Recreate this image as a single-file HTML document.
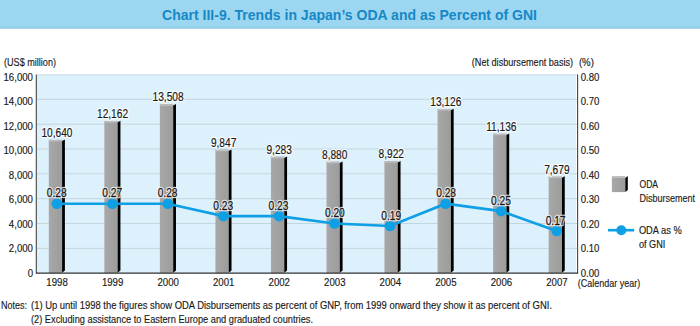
<!DOCTYPE html>
<html><head><meta charset="utf-8"><style>
html,body{margin:0;padding:0;background:#fff;}
body{width:700px;height:326px;overflow:hidden;}
svg{display:block;font-family:"Liberation Sans",sans-serif;}
</style></head><body>
<svg width="700" height="326" viewBox="0 0 700 326">
<rect x="0" y="0" width="700" height="28.6" fill="#9dd6f1"/>
<rect x="0" y="26.4" width="700" height="2.2" fill="#94cfe8"/>
<text x="162" y="19.8" font-weight="bold" font-size="15.5" fill="#1688c6" textLength="375" lengthAdjust="spacingAndGlyphs">Chart III-9. Trends in Japan’s ODA and as Percent of GNI</text>
<rect x="36.8" y="74.5" width="539.2" height="198.7" fill="#ddf1fc"/>
<line x1="37" y1="248.4" x2="577" y2="248.4" stroke="#c3d5df" stroke-width="1"/>
<line x1="37" y1="223.5" x2="577" y2="223.5" stroke="#c3d5df" stroke-width="1"/>
<line x1="37" y1="198.7" x2="577" y2="198.7" stroke="#c3d5df" stroke-width="1"/>
<line x1="37" y1="173.8" x2="577" y2="173.8" stroke="#c3d5df" stroke-width="1"/>
<line x1="37" y1="149.0" x2="577" y2="149.0" stroke="#c3d5df" stroke-width="1"/>
<line x1="37" y1="124.2" x2="577" y2="124.2" stroke="#c3d5df" stroke-width="1"/>
<line x1="37" y1="99.3" x2="577" y2="99.3" stroke="#c3d5df" stroke-width="1"/>
<line x1="37" y1="74.9" x2="577" y2="74.9" stroke="#cbdbe4" stroke-width="1"/>
<defs><linearGradient id="bg" x1="0" x2="1" y1="0" y2="0"><stop offset="0" stop-color="#a8a8a8"/><stop offset="1" stop-color="#9c9c9c"/></linearGradient></defs>
<rect x="48.80" y="139.86" width="13.3" height="133.34" fill="url(#bg)"/>
<rect x="48.80" y="139.86" width="13.3" height="1.6" fill="#bdbdbd"/>
<polygon points="62.10,141.06 64.90,139.56 64.90,270.40 62.10,272.80" fill="#000"/>
<rect x="104.34" y="120.96" width="13.3" height="152.24" fill="url(#bg)"/>
<rect x="104.34" y="120.96" width="13.3" height="1.6" fill="#bdbdbd"/>
<polygon points="117.64,122.16 120.44,120.66 120.44,270.40 117.64,272.80" fill="#000"/>
<rect x="159.88" y="104.25" width="13.3" height="168.95" fill="url(#bg)"/>
<rect x="159.88" y="104.25" width="13.3" height="1.6" fill="#bdbdbd"/>
<polygon points="173.18,105.45 175.98,103.95 175.98,270.40 173.18,272.80" fill="#000"/>
<rect x="215.42" y="149.71" width="13.3" height="123.49" fill="url(#bg)"/>
<rect x="215.42" y="149.71" width="13.3" height="1.6" fill="#bdbdbd"/>
<polygon points="228.72,150.91 231.52,149.41 231.52,270.40 228.72,272.80" fill="#000"/>
<rect x="270.96" y="156.72" width="13.3" height="116.48" fill="url(#bg)"/>
<rect x="270.96" y="156.72" width="13.3" height="1.6" fill="#bdbdbd"/>
<polygon points="284.26,157.92 287.06,156.42 287.06,270.40 284.26,272.80" fill="#000"/>
<rect x="326.50" y="161.72" width="13.3" height="111.48" fill="url(#bg)"/>
<rect x="326.50" y="161.72" width="13.3" height="1.6" fill="#bdbdbd"/>
<polygon points="339.80,162.92 342.60,161.42 342.60,270.40 339.80,272.80" fill="#000"/>
<rect x="384.44" y="161.20" width="13.3" height="112.00" fill="url(#bg)"/>
<rect x="384.44" y="161.20" width="13.3" height="1.6" fill="#bdbdbd"/>
<polygon points="397.74,162.40 400.54,160.90 400.54,270.40 397.74,272.80" fill="#000"/>
<rect x="437.58" y="108.99" width="13.3" height="164.21" fill="url(#bg)"/>
<rect x="437.58" y="108.99" width="13.3" height="1.6" fill="#bdbdbd"/>
<polygon points="450.88,110.19 453.68,108.69 453.68,270.40 450.88,272.80" fill="#000"/>
<rect x="493.12" y="133.70" width="13.3" height="139.50" fill="url(#bg)"/>
<rect x="493.12" y="133.70" width="13.3" height="1.6" fill="#bdbdbd"/>
<polygon points="506.42,134.90 509.22,133.40 509.22,270.40 506.42,272.80" fill="#000"/>
<rect x="548.66" y="176.64" width="13.3" height="96.56" fill="url(#bg)"/>
<rect x="548.66" y="176.64" width="13.3" height="1.6" fill="#bdbdbd"/>
<polygon points="561.96,177.84 564.76,176.34 564.76,270.40 561.96,272.80" fill="#000"/>
<text x="57.00" y="136.86" text-anchor="middle" font-size="12.5" fill="#fff" textLength="31.04" lengthAdjust="spacingAndGlyphs" stroke="#fff" stroke-width="2.4" stroke-opacity="0.9" stroke-linejoin="round">10,640</text>
<text x="57.00" y="136.86" text-anchor="middle" font-size="12.5" fill="#1a1a1a" stroke="#1a1a1a" stroke-width="0.2" textLength="31.04" lengthAdjust="spacingAndGlyphs">10,640</text>
<text x="112.54" y="117.96" text-anchor="middle" font-size="12.5" fill="#fff" textLength="31.04" lengthAdjust="spacingAndGlyphs" stroke="#fff" stroke-width="2.4" stroke-opacity="0.9" stroke-linejoin="round">12,162</text>
<text x="112.54" y="117.96" text-anchor="middle" font-size="12.5" fill="#1a1a1a" stroke="#1a1a1a" stroke-width="0.2" textLength="31.04" lengthAdjust="spacingAndGlyphs">12,162</text>
<text x="168.08" y="101.25" text-anchor="middle" font-size="12.5" fill="#fff" textLength="31.04" lengthAdjust="spacingAndGlyphs" stroke="#fff" stroke-width="2.4" stroke-opacity="0.9" stroke-linejoin="round">13,508</text>
<text x="168.08" y="101.25" text-anchor="middle" font-size="12.5" fill="#1a1a1a" stroke="#1a1a1a" stroke-width="0.2" textLength="31.04" lengthAdjust="spacingAndGlyphs">13,508</text>
<text x="223.62" y="146.71" text-anchor="middle" font-size="12.5" fill="#fff" textLength="25.40" lengthAdjust="spacingAndGlyphs" stroke="#fff" stroke-width="2.4" stroke-opacity="0.9" stroke-linejoin="round">9,847</text>
<text x="223.62" y="146.71" text-anchor="middle" font-size="12.5" fill="#1a1a1a" stroke="#1a1a1a" stroke-width="0.2" textLength="25.40" lengthAdjust="spacingAndGlyphs">9,847</text>
<text x="279.16" y="153.72" text-anchor="middle" font-size="12.5" fill="#fff" textLength="25.40" lengthAdjust="spacingAndGlyphs" stroke="#fff" stroke-width="2.4" stroke-opacity="0.9" stroke-linejoin="round">9,283</text>
<text x="279.16" y="153.72" text-anchor="middle" font-size="12.5" fill="#1a1a1a" stroke="#1a1a1a" stroke-width="0.2" textLength="25.40" lengthAdjust="spacingAndGlyphs">9,283</text>
<text x="334.70" y="158.72" text-anchor="middle" font-size="12.5" fill="#fff" textLength="25.40" lengthAdjust="spacingAndGlyphs" stroke="#fff" stroke-width="2.4" stroke-opacity="0.9" stroke-linejoin="round">8,880</text>
<text x="334.70" y="158.72" text-anchor="middle" font-size="12.5" fill="#1a1a1a" stroke="#1a1a1a" stroke-width="0.2" textLength="25.40" lengthAdjust="spacingAndGlyphs">8,880</text>
<text x="391.24" y="158.20" text-anchor="middle" font-size="12.5" fill="#fff" textLength="25.40" lengthAdjust="spacingAndGlyphs" stroke="#fff" stroke-width="2.4" stroke-opacity="0.9" stroke-linejoin="round">8,922</text>
<text x="391.24" y="158.20" text-anchor="middle" font-size="12.5" fill="#1a1a1a" stroke="#1a1a1a" stroke-width="0.2" textLength="25.40" lengthAdjust="spacingAndGlyphs">8,922</text>
<text x="445.78" y="105.99" text-anchor="middle" font-size="12.5" fill="#fff" textLength="31.04" lengthAdjust="spacingAndGlyphs" stroke="#fff" stroke-width="2.4" stroke-opacity="0.9" stroke-linejoin="round">13,126</text>
<text x="445.78" y="105.99" text-anchor="middle" font-size="12.5" fill="#1a1a1a" stroke="#1a1a1a" stroke-width="0.2" textLength="31.04" lengthAdjust="spacingAndGlyphs">13,126</text>
<text x="501.32" y="130.70" text-anchor="middle" font-size="12.5" fill="#fff" textLength="30.29" lengthAdjust="spacingAndGlyphs" stroke="#fff" stroke-width="2.4" stroke-opacity="0.9" stroke-linejoin="round">11,136</text>
<text x="501.32" y="130.70" text-anchor="middle" font-size="12.5" fill="#1a1a1a" stroke="#1a1a1a" stroke-width="0.2" textLength="30.29" lengthAdjust="spacingAndGlyphs">11,136</text>
<text x="556.86" y="173.64" text-anchor="middle" font-size="12.5" fill="#fff" textLength="25.40" lengthAdjust="spacingAndGlyphs" stroke="#fff" stroke-width="2.4" stroke-opacity="0.9" stroke-linejoin="round">7,679</text>
<text x="556.86" y="173.64" text-anchor="middle" font-size="12.5" fill="#1a1a1a" stroke="#1a1a1a" stroke-width="0.2" textLength="25.40" lengthAdjust="spacingAndGlyphs">7,679</text>
<line x1="36.3" y1="74.5" x2="36.3" y2="273.7" stroke="#444" stroke-width="1.1"/>
<line x1="577.6" y1="74.5" x2="577.6" y2="273.7" stroke="#444" stroke-width="1.1"/>
<line x1="36" y1="273.2" x2="578" y2="273.2" stroke="#333" stroke-width="1.2"/>
<text x="33.00" y="276.60" text-anchor="end" font-size="10.5" fill="#1a1a1a" stroke="#1a1a1a" stroke-width="0.15" textLength="5.37" lengthAdjust="spacingAndGlyphs">0</text>
<text x="580.70" y="276.60" text-anchor="start" font-size="10.5" fill="#1a1a1a" stroke="#1a1a1a" stroke-width="0.15" textLength="18.68" lengthAdjust="spacingAndGlyphs">0.00</text>
<text x="33.00" y="252.10" text-anchor="end" font-size="10.5" fill="#1a1a1a" stroke="#1a1a1a" stroke-width="0.15" textLength="24.15" lengthAdjust="spacingAndGlyphs">2,000</text>
<text x="580.70" y="252.10" text-anchor="start" font-size="10.5" fill="#1a1a1a" stroke="#1a1a1a" stroke-width="0.15" textLength="18.68" lengthAdjust="spacingAndGlyphs">0.10</text>
<text x="33.00" y="227.60" text-anchor="end" font-size="10.5" fill="#1a1a1a" stroke="#1a1a1a" stroke-width="0.15" textLength="24.15" lengthAdjust="spacingAndGlyphs">4,000</text>
<text x="580.70" y="227.60" text-anchor="start" font-size="10.5" fill="#1a1a1a" stroke="#1a1a1a" stroke-width="0.15" textLength="18.68" lengthAdjust="spacingAndGlyphs">0.20</text>
<text x="33.00" y="203.10" text-anchor="end" font-size="10.5" fill="#1a1a1a" stroke="#1a1a1a" stroke-width="0.15" textLength="24.15" lengthAdjust="spacingAndGlyphs">6,000</text>
<text x="580.70" y="203.10" text-anchor="start" font-size="10.5" fill="#1a1a1a" stroke="#1a1a1a" stroke-width="0.15" textLength="18.68" lengthAdjust="spacingAndGlyphs">0.30</text>
<text x="33.00" y="178.60" text-anchor="end" font-size="10.5" fill="#1a1a1a" stroke="#1a1a1a" stroke-width="0.15" textLength="24.15" lengthAdjust="spacingAndGlyphs">8,000</text>
<text x="580.70" y="178.60" text-anchor="start" font-size="10.5" fill="#1a1a1a" stroke="#1a1a1a" stroke-width="0.15" textLength="18.68" lengthAdjust="spacingAndGlyphs">0.40</text>
<text x="33.00" y="154.10" text-anchor="end" font-size="10.5" fill="#1a1a1a" stroke="#1a1a1a" stroke-width="0.15" textLength="29.51" lengthAdjust="spacingAndGlyphs">10,000</text>
<text x="580.70" y="154.10" text-anchor="start" font-size="10.5" fill="#1a1a1a" stroke="#1a1a1a" stroke-width="0.15" textLength="18.68" lengthAdjust="spacingAndGlyphs">0.50</text>
<text x="33.00" y="129.60" text-anchor="end" font-size="10.5" fill="#1a1a1a" stroke="#1a1a1a" stroke-width="0.15" textLength="29.51" lengthAdjust="spacingAndGlyphs">12,000</text>
<text x="580.70" y="129.60" text-anchor="start" font-size="10.5" fill="#1a1a1a" stroke="#1a1a1a" stroke-width="0.15" textLength="18.68" lengthAdjust="spacingAndGlyphs">0.60</text>
<text x="33.00" y="105.10" text-anchor="end" font-size="10.5" fill="#1a1a1a" stroke="#1a1a1a" stroke-width="0.15" textLength="29.51" lengthAdjust="spacingAndGlyphs">14,000</text>
<text x="580.70" y="105.10" text-anchor="start" font-size="10.5" fill="#1a1a1a" stroke="#1a1a1a" stroke-width="0.15" textLength="18.68" lengthAdjust="spacingAndGlyphs">0.70</text>
<text x="33.00" y="80.60" text-anchor="end" font-size="10.5" fill="#1a1a1a" stroke="#1a1a1a" stroke-width="0.15" textLength="29.51" lengthAdjust="spacingAndGlyphs">16,000</text>
<text x="580.70" y="80.60" text-anchor="start" font-size="10.5" fill="#1a1a1a" stroke="#1a1a1a" stroke-width="0.15" textLength="18.68" lengthAdjust="spacingAndGlyphs">0.80</text>
<text x="57.10" y="286.00" text-anchor="middle" font-size="11" fill="#1a1a1a" stroke="#1a1a1a" stroke-width="0.15" textLength="21.47" lengthAdjust="spacingAndGlyphs">1998</text>
<text x="112.64" y="286.00" text-anchor="middle" font-size="11" fill="#1a1a1a" stroke="#1a1a1a" stroke-width="0.15" textLength="21.47" lengthAdjust="spacingAndGlyphs">1999</text>
<text x="168.18" y="286.00" text-anchor="middle" font-size="11" fill="#1a1a1a" stroke="#1a1a1a" stroke-width="0.15" textLength="21.47" lengthAdjust="spacingAndGlyphs">2000</text>
<text x="223.72" y="286.00" text-anchor="middle" font-size="11" fill="#1a1a1a" stroke="#1a1a1a" stroke-width="0.15" textLength="21.47" lengthAdjust="spacingAndGlyphs">2001</text>
<text x="279.26" y="286.00" text-anchor="middle" font-size="11" fill="#1a1a1a" stroke="#1a1a1a" stroke-width="0.15" textLength="21.47" lengthAdjust="spacingAndGlyphs">2002</text>
<text x="334.80" y="286.00" text-anchor="middle" font-size="11" fill="#1a1a1a" stroke="#1a1a1a" stroke-width="0.15" textLength="21.47" lengthAdjust="spacingAndGlyphs">2003</text>
<text x="390.34" y="286.00" text-anchor="middle" font-size="11" fill="#1a1a1a" stroke="#1a1a1a" stroke-width="0.15" textLength="21.47" lengthAdjust="spacingAndGlyphs">2004</text>
<text x="445.88" y="286.00" text-anchor="middle" font-size="11" fill="#1a1a1a" stroke="#1a1a1a" stroke-width="0.15" textLength="21.47" lengthAdjust="spacingAndGlyphs">2005</text>
<text x="501.42" y="286.00" text-anchor="middle" font-size="11" fill="#1a1a1a" stroke="#1a1a1a" stroke-width="0.15" textLength="21.47" lengthAdjust="spacingAndGlyphs">2006</text>
<text x="556.96" y="286.00" text-anchor="middle" font-size="11" fill="#1a1a1a" stroke="#1a1a1a" stroke-width="0.15" textLength="21.47" lengthAdjust="spacingAndGlyphs">2007</text>
<polyline points="56.8,203.7 112.3,203.7 167.9,203.7 223.4,216.1 279.0,216.1 334.5,223.5 390.0,226.0 445.6,203.7 501.1,211.1 556.7,231.0" fill="none" stroke="#0e9fe5" stroke-width="2.6"/>
<circle cx="56.8" cy="203.7" r="5.3" fill="#0e9fe5"/>
<circle cx="112.3" cy="203.7" r="5.3" fill="#0e9fe5"/>
<circle cx="167.9" cy="203.7" r="5.3" fill="#0e9fe5"/>
<circle cx="223.4" cy="216.1" r="5.3" fill="#0e9fe5"/>
<circle cx="279.0" cy="216.1" r="5.3" fill="#0e9fe5"/>
<circle cx="334.5" cy="223.5" r="5.3" fill="#0e9fe5"/>
<circle cx="390.0" cy="226.0" r="5.3" fill="#0e9fe5"/>
<circle cx="445.6" cy="203.7" r="5.3" fill="#0e9fe5"/>
<circle cx="501.1" cy="211.1" r="5.3" fill="#0e9fe5"/>
<circle cx="556.7" cy="231.0" r="5.3" fill="#0e9fe5"/>
<text x="56.65" y="197.25" text-anchor="middle" font-size="12.2" fill="#fff" textLength="19.85" lengthAdjust="spacingAndGlyphs" stroke="#fff" stroke-width="2.4" stroke-opacity="0.9" stroke-linejoin="round">0.28</text>
<text x="56.65" y="197.25" text-anchor="middle" font-size="12.2" fill="#1a1a1a" stroke="#1a1a1a" stroke-width="0.35" textLength="19.85" lengthAdjust="spacingAndGlyphs">0.28</text>
<text x="112.19" y="197.25" text-anchor="middle" font-size="12.2" fill="#fff" textLength="19.85" lengthAdjust="spacingAndGlyphs" stroke="#fff" stroke-width="2.4" stroke-opacity="0.9" stroke-linejoin="round">0.27</text>
<text x="112.19" y="197.25" text-anchor="middle" font-size="12.2" fill="#1a1a1a" stroke="#1a1a1a" stroke-width="0.35" textLength="19.85" lengthAdjust="spacingAndGlyphs">0.27</text>
<text x="167.63" y="197.25" text-anchor="middle" font-size="12.2" fill="#fff" textLength="19.85" lengthAdjust="spacingAndGlyphs" stroke="#fff" stroke-width="2.4" stroke-opacity="0.9" stroke-linejoin="round">0.28</text>
<text x="167.63" y="197.25" text-anchor="middle" font-size="12.2" fill="#1a1a1a" stroke="#1a1a1a" stroke-width="0.35" textLength="19.85" lengthAdjust="spacingAndGlyphs">0.28</text>
<text x="223.17" y="209.67" text-anchor="middle" font-size="12.2" fill="#fff" textLength="19.85" lengthAdjust="spacingAndGlyphs" stroke="#fff" stroke-width="2.4" stroke-opacity="0.9" stroke-linejoin="round">0.23</text>
<text x="223.17" y="209.67" text-anchor="middle" font-size="12.2" fill="#1a1a1a" stroke="#1a1a1a" stroke-width="0.35" textLength="19.85" lengthAdjust="spacingAndGlyphs">0.23</text>
<text x="278.41" y="209.67" text-anchor="middle" font-size="12.2" fill="#fff" textLength="19.85" lengthAdjust="spacingAndGlyphs" stroke="#fff" stroke-width="2.4" stroke-opacity="0.9" stroke-linejoin="round">0.23</text>
<text x="278.41" y="209.67" text-anchor="middle" font-size="12.2" fill="#1a1a1a" stroke="#1a1a1a" stroke-width="0.35" textLength="19.85" lengthAdjust="spacingAndGlyphs">0.23</text>
<text x="334.85" y="217.12" text-anchor="middle" font-size="12.2" fill="#fff" textLength="19.85" lengthAdjust="spacingAndGlyphs" stroke="#fff" stroke-width="2.4" stroke-opacity="0.9" stroke-linejoin="round">0.20</text>
<text x="334.85" y="217.12" text-anchor="middle" font-size="12.2" fill="#1a1a1a" stroke="#1a1a1a" stroke-width="0.35" textLength="19.85" lengthAdjust="spacingAndGlyphs">0.20</text>
<text x="391.29" y="219.61" text-anchor="middle" font-size="12.2" fill="#fff" textLength="19.85" lengthAdjust="spacingAndGlyphs" stroke="#fff" stroke-width="2.4" stroke-opacity="0.9" stroke-linejoin="round">0.19</text>
<text x="391.29" y="219.61" text-anchor="middle" font-size="12.2" fill="#1a1a1a" stroke="#1a1a1a" stroke-width="0.35" textLength="19.85" lengthAdjust="spacingAndGlyphs">0.19</text>
<text x="446.13" y="197.25" text-anchor="middle" font-size="12.2" fill="#fff" textLength="19.85" lengthAdjust="spacingAndGlyphs" stroke="#fff" stroke-width="2.4" stroke-opacity="0.9" stroke-linejoin="round">0.28</text>
<text x="446.13" y="197.25" text-anchor="middle" font-size="12.2" fill="#1a1a1a" stroke="#1a1a1a" stroke-width="0.35" textLength="19.85" lengthAdjust="spacingAndGlyphs">0.28</text>
<text x="500.92" y="204.71" text-anchor="middle" font-size="12.2" fill="#fff" textLength="19.85" lengthAdjust="spacingAndGlyphs" stroke="#fff" stroke-width="2.4" stroke-opacity="0.9" stroke-linejoin="round">0.25</text>
<text x="500.92" y="204.71" text-anchor="middle" font-size="12.2" fill="#1a1a1a" stroke="#1a1a1a" stroke-width="0.35" textLength="19.85" lengthAdjust="spacingAndGlyphs">0.25</text>
<text x="555.61" y="224.58" text-anchor="middle" font-size="12.2" fill="#fff" textLength="19.85" lengthAdjust="spacingAndGlyphs" stroke="#fff" stroke-width="2.4" stroke-opacity="0.9" stroke-linejoin="round">0.17</text>
<text x="555.61" y="224.58" text-anchor="middle" font-size="12.2" fill="#1a1a1a" stroke="#1a1a1a" stroke-width="0.35" textLength="19.85" lengthAdjust="spacingAndGlyphs">0.17</text>
<text x="4.00" y="65.80" text-anchor="start" font-size="10.5" fill="#1a1a1a" stroke="#1a1a1a" stroke-width="0.15" textLength="52.00" lengthAdjust="spacingAndGlyphs">(US$ million)</text>
<text x="471.80" y="65.80" text-anchor="start" font-size="10.5" fill="#1a1a1a" stroke="#1a1a1a" stroke-width="0.15" textLength="101.30" lengthAdjust="spacingAndGlyphs">(Net disbursement basis)</text>
<text x="578.90" y="65.80" text-anchor="start" font-size="10.5" fill="#1a1a1a" stroke="#1a1a1a" stroke-width="0.15" textLength="15.00" lengthAdjust="spacingAndGlyphs">(%)</text>
<text x="577.80" y="287.20" text-anchor="start" font-size="10.5" fill="#1a1a1a" stroke="#1a1a1a" stroke-width="0.15" textLength="62.40" lengthAdjust="spacingAndGlyphs">(Calendar year)</text>
<rect x="611.9" y="176.4" width="13.4" height="15.7" fill="url(#bg)"/>
<rect x="611.9" y="176.4" width="13.4" height="1.6" fill="#bdbdbd"/>
<polygon points="625.3,178 627.8,176 627.8,190 625.3,192.1" fill="#000"/>
<text x="639.50" y="188.40" text-anchor="start" font-size="10.5" fill="#1a1a1a" stroke="#1a1a1a" stroke-width="0.15" textLength="18.60" lengthAdjust="spacingAndGlyphs">ODA</text>
<text x="639.50" y="201.60" text-anchor="start" font-size="10.5" fill="#1a1a1a" stroke="#1a1a1a" stroke-width="0.15" textLength="55.50" lengthAdjust="spacingAndGlyphs">Disbursement</text>
<line x1="608" y1="230.2" x2="634.2" y2="230.2" stroke="#0e9fe5" stroke-width="2.6"/>
<circle cx="621.3" cy="230.2" r="5" fill="#0e9fe5"/>
<text x="638.90" y="233.70" text-anchor="start" font-size="10.5" fill="#1a1a1a" stroke="#1a1a1a" stroke-width="0.15" textLength="42.80" lengthAdjust="spacingAndGlyphs">ODA as %</text>
<text x="638.90" y="247.60" text-anchor="start" font-size="10.5" fill="#1a1a1a" stroke="#1a1a1a" stroke-width="0.15" textLength="26.50" lengthAdjust="spacingAndGlyphs">of GNI</text>
<text x="1.00" y="309.00" text-anchor="start" font-size="10.5" fill="#1a1a1a" stroke="#1a1a1a" stroke-width="0.15" textLength="26.00" lengthAdjust="spacingAndGlyphs">Notes:</text>
<text x="31.00" y="309.00" text-anchor="start" font-size="10.5" fill="#1a1a1a" stroke="#1a1a1a" stroke-width="0.15" textLength="521.00" lengthAdjust="spacingAndGlyphs">(1) Up until 1998 the figures show ODA Disbursements as percent of GNP, from 1999 onward they show it as percent of GNI.</text>
<text x="31.00" y="323.00" text-anchor="start" font-size="10.5" fill="#1a1a1a" stroke="#1a1a1a" stroke-width="0.15" textLength="282.00" lengthAdjust="spacingAndGlyphs">(2) Excluding assistance to Eastern Europe and graduated countries.</text>
</svg>
</body></html>
